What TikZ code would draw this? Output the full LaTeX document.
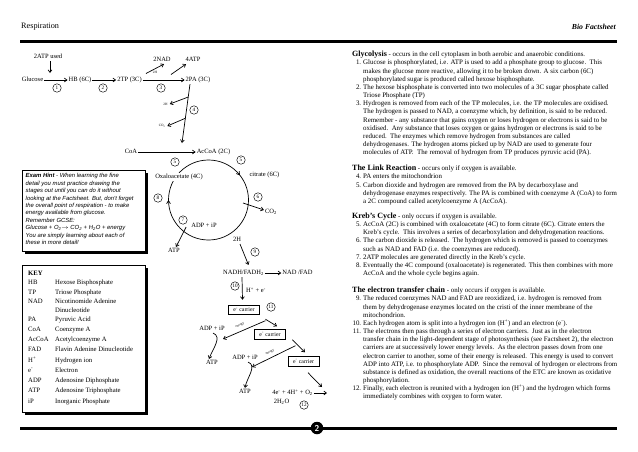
\documentclass[tikz,border=0pt]{standalone}
\usepackage{fontspec}
\setmainfont{Liberation Serif}
\newfontfamily\hintfont{Liberation Sans}
\usetikzlibrary{arrows.meta,positioning,calc,decorations.markings,shadows}
\newcommand\rowno[1]{\makebox[9pt][r]{#1}\hspace{2pt}}
\newcommand\secthead[1]{{\fontsize{8}{8}\selectfont\bfseries #1}}

\begin{document}
\begin{tikzpicture}[x=1pt,y=1pt,
  lbl/.style={font=\fontsize{6.5}{7}\selectfont, inner sep=1pt, text height=4.4pt, text depth=1.3pt},
  small/.style={font=\fontsize{3.4}{4}\selectfont, inner sep=0.5pt},
  num/.style={circle, draw, line width=0.45pt, inner sep=0pt, minimum size=8.5pt, font=\fontsize{5.2}{6}\selectfont},
  carrier/.style={draw, line width=0.9pt, minimum width=31pt, minimum height=9.5pt, inner sep=0pt, font=\fontsize{5.8}{6}\selectfont},
  arr/.style={-{Straight Barb[length=2.6pt,width=3.8pt]}, line width=0.7pt},
  panel/.style={draw, line width=0.4pt, fill=white, anchor=north west, drop shadow={shadow xshift=2.5pt, shadow yshift=-2.5pt, opacity=1, fill=black}},
  keytext/.style={font=\fontsize{6.7}{7}\selectfont, inner sep=0pt, anchor=base west},
  column/.style={font=\fontsize{6.9}{8.15}\selectfont, inner sep=0pt, anchor=north west}]
  \useasboundingbox (0,0) rectangle (638,-451);
  \fill[white] (0,0) rectangle (638,-451);

  % page head and foot
  \node[anchor=base west, font=\fontsize{8.2}{9}\selectfont, inner sep=0pt] (title) at (21,-28.5) {Respiration};
  \node[anchor=base east, font=\fontsize{7.7}{9}\selectfont\bfseries\itshape, inner sep=0pt] (series) at (616,-29.5) {Bio Factsheet};
  \draw[line width=3pt] (20,-41) -- (617,-41);
  \draw[line width=3pt] (20,-428) -- (617,-428);
  \node[circle, fill=black, text=white, inner sep=0pt, minimum size=12.5pt, font=\fontsize{8.5}{9}\selectfont\bfseries\sffamily] (page) at (317,-428) {2};

  % glycolysis
  \node[lbl] (glucose) at (32.5,-80) {Glucose};
  \node[lbl] (hb) at (80,-80) {HB (6C)};
  \node[lbl] (tp) at (129.5,-80) {2TP (3C)};
  \node[lbl] (pa) at (198,-80) {2PA (3C)};
  \node[lbl] (atpused) at (48,-57) {2ATP used};
  \node[lbl] (nad) at (162,-60) {2NAD};
  \node[lbl] (atpfour) at (193,-60) {4ATP};
  \node[small] (hone) at (155,-72.5) {2H};
  \draw[arr] (glucose) -- (hb);
  \draw[arr] (hb) -- (tp);
  \draw[arr] (tp) -- (pa);
  \coordinate (usedtip) at (50,-73);
  \draw[arr] (atpused.south -| usedtip) -- (usedtip);
  \coordinate (ox1) at (146,-73.5);
  \coordinate (ox2) at (171,-74.5);
  \draw[arr] (ox1) -- ([xshift=2pt]nad.south);
  \draw[arr] (ox2) -- ([xshift=-7pt]atpfour.south);

  % link reaction
  \node[small] (htwo) at (165.5,-104) {2H};
  \node[small] (cotwo) at (162,-126) {CO\textsubscript{2}};
  \coordinate (lkstart) at ([xshift=-8pt]pa.south);
  \coordinate (lktip) at (182,-143);
  \draw[arr] (lkstart) -- (lktip);
  \draw[arr] ($(lkstart)!0.22!(lktip)$) -- ([xshift=1.5pt]htwo.east);
  \draw[arr] ($(lkstart)!0.58!(lktip)$) -- ([xshift=1.5pt]cotwo.east);
  \node[lbl] (coa) at (131,-152) {CoA};
  \node[lbl] (accoa) at (213.5,-152) {AcCoA (2C)};
  \draw[arr] (coa) -- (accoa);

  % krebs cycle
  \coordinate (kc) at (208.5,-200);
  \draw[line width=0.7pt, postaction={decorate}, decoration={markings,
      mark=at position 0.106 with {\arrowreversed{Straight Barb[length=3pt,width=3.8pt]}},
      mark=at position 0.5 with {\arrowreversed{Straight Barb[length=3pt,width=3.8pt]}}}]
    (kc) circle[radius=40pt];
  \node[lbl, fill=white] (oxa) at (179,-177) {Oxaloacetate (4C)};
  \node[lbl] (citrate) at (264.5,-175) {citrate (6C)};
  \node[lbl] (cotwob) at (271,-212) {CO\textsubscript{2}};
  \coordinate (co2from) at (243,-203);
  \draw[arr] (co2from) -- ([yshift=2pt]cotwob.west);
  \node[lbl] (adpa) at (204,-226) {ADP + iP};
  \node[lbl] (atpa) at (174,-251) {ATP};
  \draw[arr] ([xshift=-4pt,yshift=-1pt]adpa.west) -- ([xshift=2pt]atpa.north);
  \node[lbl] (htwoc) at (237,-240) {2H};

  % electron transfer chain
  \node[lbl] (nadh) at (243.5,-273) {NADH/FADH\textsubscript{2}};
  \node[lbl] (nadfad) at (297.5,-273) {NAD /FAD};
  \draw[arr] ([xshift=3pt]htwoc.south) -- ([xshift=5pt,yshift=4pt]nadh.north);
  \draw[arr] (nadh) -- (nadfad);
  \node[lbl] (hpe) at (256,-291) {H\textsuperscript{+} + e\textsuperscript{-}};
  \node[carrier] (carone) at (244,-310) {e\textsuperscript{-} carrier};
  \node[carrier] (cartwo) at (270,-334.5) {e\textsuperscript{-} carrier};
  \node[carrier] (carthree) at (303.5,-361.5) {e\textsuperscript{-} carrier};
  \draw[arr] ([xshift=-1.5pt]nadh.south) -- ([xshift=-1.5pt,yshift=5pt]carone.north);
  \coordinate (cstep1) at ([shift={(5.5pt,-4pt)}]carone.south east);
  \coordinate (cstep2) at ([xshift=6.5pt]cartwo.south east);
  \coordinate (cstep3) at ([shift={(4.5pt,-6pt)}]carthree.south);
  \draw[arr] (cstep1) -- ([shift={(7pt,3pt)}]cartwo.north);
  \draw[arr] (cstep2) -- ([shift={(1.5pt,4pt)}]carthree.north);
  \node[lbl] (adpb) at (212,-329) {ADP + iP};
  \node[lbl] (atpb) at (212,-363) {ATP};
  \node[lbl] (adpc) at (245,-358) {ADP + iP};
  \node[lbl] (atpc) at (245,-392) {ATP};
  \coordinate (eone) at (223,-339);
  \coordinate (etwo) at (252,-367);
  \draw[arr] ([yshift=-1.5pt]cstep1) -- (eone);
  \draw[arr] ([shift={(3pt,-6pt)}]cstep2) -- (etwo);
  \node[small, rotate=23] (energya) at (240,-325.5) {energy};
  \node[small, rotate=25] (energyb) at (270,-352.5) {energy};
  \draw[arr] ([xshift=1pt]adpb.south) to[out=-20,in=70] ([xshift=-3pt]atpb.north);
  \draw[arr] ([xshift=3pt]adpc.south) to[out=-20,in=80] (atpc.north);
  \node[lbl] (final) at (292.5,-393) {4e\textsuperscript{-} + 4H\textsuperscript{+} + O\textsubscript{2}};
  \node[lbl] (water) at (281.5,-402) {2H\textsubscript{2}O};
  \coordinate (finaltip) at (327,-393);
  \coordinate (endtip) at (322,-387);
  \draw[arr] (final.east) -- (finaltip);
  \draw[arr] (cstep3) -- (endtip);

  \foreach \nm/\t/\x/\y in {n1/1/57/88, n2/2/103/88, n3/3/161/88, n4/4/194/110, n5a/5/175/162, n5b/5/241/160, n6/6/258/197, n7/7/183/220, n8/8/158/198, n9/9/255/252, n10/10/235/286, n11/11/271/307, n12/12/304/405}
    \node[num, fill=white] (\nm) at (\x,-\y) {\t};

  % hint and key panels
  \node[panel, minimum width=123pt, minimum height=81pt] (hintbox) at (22,-170) {};
  \node[font=\hintfont\itshape\fontsize{5.9}{7.4}\selectfont, align=left, inner sep=0pt, anchor=north west] (hint) at (25.5,-173.5) {%
    {\bfseries Exam Hint} - When learning the fine\\
    detail you must practice drawing the\\
    stages out until you can do it without\\
    looking at the Factsheet. But, don't forget\\
    the overall point of respiration - to make\\
    energy available from glucose.\\
    Remember GCSE:\\
    Glucose + O\textsubscript{2}$\rightarrow$ CO\textsubscript{2} + H\textsubscript{2}O + energy\\
    You are simply learning about each of\\
    these in more detail!};

  \node[panel, minimum width=123pt, minimum height=147pt] (keybox) at (22,-265) {};
  \node[keytext, font=\fontsize{6.7}{7}\selectfont\bfseries] (keyhead) at (28,-275.6) {KEY};
  \foreach \ab/\de/\y [count=\i] in {HB/Hexose Bisphosphate/282.7, TP/Triose Phosphate/292.7, NAD/Nicotinomide Adenine/302.3, PA/Pyruvic Acid/320, CoA/Coenzyme A/330, AcCoA/Acetylcoenzyme A/340, FAD/Flavin Adenine Dinucleotide/350, H\textsuperscript{+}/Hydrogen ion/360.7, e\textsuperscript{-}/Electron/370.7, ADP/Adenosine Diphosphate/381, ATP/Adenosine Triphosphate/391, iP/Inorganic Phosphate/401.7}
  {
    \node[keytext] (abbr\i) at (28,-\y-1.6) {\ab};
    \node[keytext] (meaning\i) at (55,-\y-1.6) {\de};
  }
  \node[keytext] (meaning3b) at (55,-312.3) {Dinucleotide};

  % notes column
  \node[column] (glyco) at (352,-50.9) {\begin{tabular}{@{}l@{}}
    \secthead{Glycolysis} - occurs in the cell cytoplasm in both aerobic and anaerobic conditions.\\
    \rowno{1.}Glucose is phosphorylated, i.e. ATP is used to add a phosphate group to glucose.\ \ This\\
    \rowno{}makes the glucose more reactive, allowing it to be broken down. A six carbon (6C)\\
    \rowno{}phosphorylated sugar is produced called hexose bisphosphate.\\
    \rowno{2.}The hexose bisphosphate is converted into two molecules of a 3C sugar phosphate called\\
    \rowno{}Triose Phosphate (TP)\\
    \rowno{3.}Hydrogen is removed from each of the TP molecules, i.e. the TP molecules are oxidised.\\
    \rowno{}The hydrogen is passed to NAD, a coenzyme which, by definition, is said to be reduced.\\
    \rowno{}Remember - any substance that gains oxygen or loses hydrogen or electrons is said to be\\
    \rowno{}oxidised.\ \ Any substance that loses oxygen or gains hydrogen or electrons is said to be\\
    \rowno{}reduced.\ \ The enzymes which remove hydrogen from substances are called\\
    \rowno{}dehydrogenases. The hydrogen atoms picked up by NAD are used to generate four\\
    \rowno{}molecules of ATP.\ \ The removal of hydrogen from TP produces pyruvic acid (PA).
  \end{tabular}};
  \node[column] (link) at (352,-164.9) {\begin{tabular}{@{}l@{}}
    \secthead{The Link Reaction} - occurs only if oxygen is available.\\
    \rowno{4.}PA enters the mitochondrion\\
    \rowno{5.}Carbon dioxide and hydrogen are removed from the PA by decarboxylase and\\
    \rowno{}dehydrogenase enzymes respectively. The PA is combined with coenzyme A (CoA) to form\\
    \rowno{}a 2C compound called acetylcoenzyme A (AcCoA).
  \end{tabular}};
  \node[column] (krebstext) at (352,-212.6) {\begin{tabular}{@{}l@{}}
    \secthead{Kreb's Cycle} - only occurs if oxygen is available.\\
    \rowno{5.}AcCoA (2C) is combined with oxaloacetate (4C) to form citrate (6C). Citrate enters the\\
    \rowno{}Kreb's cycle.\ \ This involves a series of decarboxylation and dehydrogenation reactions.\\
    \rowno{6.}The carbon dioxide is released.\ \ The hydrogen which is removed is passed to coenzymes\\
    \rowno{}such as NAD and FAD (i.e. the coenzymes are reduced).\\
    \rowno{7.}2ATP molecules are generated directly in the Kreb's cycle.\\
    \rowno{8.}Eventually the 4C compound (oxaloacetate) is regenerated. This then combines with more\\
    \rowno{}AcCoA and the whole cycle begins again.
  \end{tabular}};
  \node[column] (etctext) at (352,-286.9) {\begin{tabular}{@{}l@{}}
    \secthead{The electron transfer chain} - only occurs if oxygen is available.\\
    \rowno{9.}The reduced coenzymes NAD and FAD are reoxidized, i.e. hydrogen is removed from\\
    \rowno{}them by dehydrogenase enzymes located on the cristi of the inner membrane of the\\
    \rowno{}mitochondrion.\\
    \rowno{10.}Each hydrogen atom is split into a hydrogen ion (H\textsuperscript{+}) and an electron (e\textsuperscript{-}).\\
    \rowno{11.}The electrons then pass through a series of electron carriers.\ \ Just as in the electron\\
    \rowno{}transfer chain in the light-dependent stage of photosynthesis (see Factsheet 2), the electron\\
    \rowno{}carriers are at successively lower energy levels.\ \ As the electron passes down from one\\
    \rowno{}electron carrier to another, some of their energy is released.\ \ This energy is used to convert\\
    \rowno{}ADP into ATP, i.e. to phosphorylate ADP.\ \ Since the removal of hydrogen or electrons from\\
    \rowno{}substance is defined as oxidation, the overall reactions of the ETC are known as oxidative\\
    \rowno{}phosphorylation.\\
    \rowno{12.}Finally, each electron is reunited with a hydrogen ion (H\textsuperscript{+}) and the hydrogen which forms\\
    \rowno{}immediately combines with oxygen to form water.
  \end{tabular}};
\end{tikzpicture}
\end{document}
